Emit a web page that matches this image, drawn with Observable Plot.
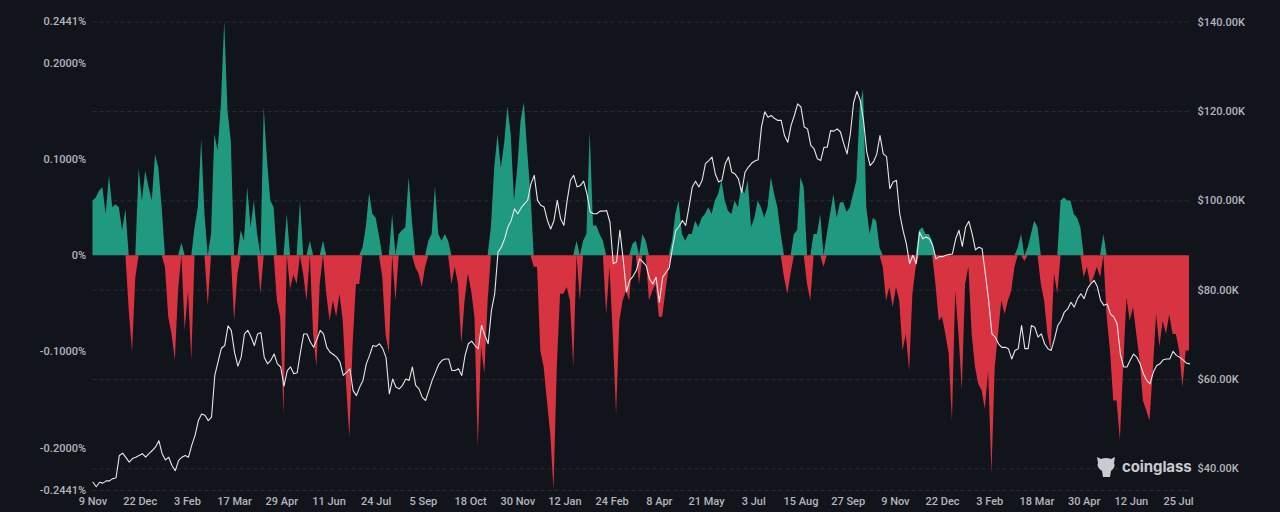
<!DOCTYPE html>
<html>
<head>
<meta charset="utf-8">
<script src="https://cdn.jsdelivr.net/npm/d3@7"></script>
<script src="https://cdn.jsdelivr.net/npm/@observablehq/plot@0.6"></script>
<style>
  html, body { margin: 0; padding: 0; background: #12141c; }
  #wrap { position: relative; width: 1280px; height: 512px; overflow: hidden; }
  #mark { position: absolute; left: 1095px; top: 454px; display: flex; align-items: center; gap: 5px;
          font-family: Inter, Roboto, sans-serif; font-weight: 700; font-size: 15px; color: #c9cbd0; letter-spacing: -0.1px; }
</style>
</head>
<body>
<div id="wrap"></div>
<script>
// ---- data (sampled every 3 days from 9 Nov 2023) ----
const startDate = "2023-11-09";
const stepDays = 3;
// funding rate, %
const fundingRate = [
0.057,0.060,0.067,0.071,0.043,0.083,0.050,0.053,0.050,0.026,
0.048,-0.057,-0.100,-0.023,0.091,0.057,0.088,0.071,0.057,0.105,
0.091,0.050,-0.012,-0.064,-0.082,-0.109,-0.036,0.013,-0.078,-0.037,
-0.109,0.029,0.050,0.121,0.043,-0.052,0.022,0.126,0.109,0.157,
0.2441,0.150,0.119,-0.068,-0.020,0.026,0.015,0.071,0.029,0.057,
0.022,-0.040,0.154,0.098,0.057,0.050,-0.047,-0.064,-0.165,0.043,
-0.035,-0.020,-0.030,0.057,-0.020,-0.047,0.015,-0.082,-0.116,-0.030,
0.015,-0.040,-0.068,-0.047,-0.064,-0.040,-0.068,-0.134,-0.189,-0.092,
-0.030,-0.030,0.008,0.029,0.065,0.043,0.039,0.020,-0.023,-0.082,
-0.102,0.043,-0.047,0.022,0.026,0.029,0.081,0.036,-0.012,-0.019,
-0.033,-0.012,0.015,0.022,0.072,0.022,0.015,0.022,0.015,-0.030,
-0.012,-0.030,-0.092,-0.047,-0.019,-0.037,-0.064,-0.199,-0.095,-0.123,
-0.047,0.030,0.091,0.126,0.091,0.116,0.155,0.126,0.057,0.091,
0.140,0.159,0.109,0.064,-0.012,-0.012,-0.099,-0.116,-0.151,-0.185,
-0.2441,-0.116,-0.040,-0.040,-0.033,-0.047,-0.116,0.015,-0.047,0.015,
0.022,0.129,0.031,0.031,0.022,0.015,-0.061,-0.012,-0.082,-0.165,
-0.068,-0.047,-0.037,-0.047,0.012,0.015,-0.030,0.022,0.015,-0.047,
-0.037,-0.030,-0.064,-0.064,-0.037,-0.012,0.015,0.043,0.057,0.022,
0.015,0.022,0.022,0.036,0.029,0.039,0.043,0.050,0.043,0.057,
0.064,0.078,0.057,0.046,0.043,0.057,0.050,0.071,0.064,0.078,
0.029,0.039,0.057,0.050,0.039,0.050,0.081,0.064,0.050,0.022,
-0.023,-0.040,-0.019,0.022,0.026,0.081,0.071,-0.030,-0.047,0.022,
0.022,0.043,-0.012,0.022,0.043,0.064,0.039,0.055,0.055,0.045,
0.050,0.064,0.078,0.154,0.173,0.050,0.022,0.039,0.036,0.008,
-0.012,-0.047,-0.033,-0.054,-0.033,-0.047,-0.099,-0.082,-0.120,-0.040,
-0.012,0.026,0.029,0.022,0.022,0.015,-0.030,-0.068,-0.064,-0.082,
-0.102,-0.172,-0.037,-0.082,-0.140,-0.030,-0.012,-0.082,-0.116,-0.134,
-0.140,-0.160,-0.120,-0.227,-0.116,-0.082,-0.047,-0.061,-0.047,-0.037,
-0.012,0.008,0.022,-0.006,0.008,0.022,0.036,0.029,-0.030,-0.047,
-0.082,-0.099,-0.019,-0.040,0.057,0.060,0.057,0.057,0.043,0.039,
0.029,-0.023,-0.012,-0.030,-0.023,-0.012,-0.023,0.022,-0.064,-0.099,
-0.151,-0.151,-0.192,-0.116,-0.044,-0.068,-0.054,-0.082,-0.109,-0.151,
-0.161,-0.172,-0.120,-0.061,-0.095,-0.068,-0.082,-0.061,-0.082,-0.082,
-0.099,-0.137,-0.099,-0.099
];
// price, thousands of USD
const price = [
37.0,36.0,37.0,36.8,37.3,37.3,37.8,38.0,43.0,43.5,
42.5,41.5,42.3,42.6,43.0,43.4,42.6,43.4,44.1,44.9,
46.3,43.4,42.0,42.6,40.7,39.6,41.9,42.6,43.0,42.6,
45.3,47.5,50.8,52.3,52.0,50.8,51.6,61.0,64.0,67.0,
67.6,72.0,71.0,66.0,63.0,65.0,70.2,71.0,69.5,67.6,
70.2,70.5,65.0,63.5,64.3,65.7,63.5,62.8,58.5,62.0,
62.8,61.3,61.5,66.1,70.2,70.2,68.4,67.2,69.0,71.0,
70.2,67.2,66.1,65.6,65.0,63.9,60.9,61.6,62.4,57.5,
56.4,58.3,59.8,63.5,65.4,67.6,67.4,68.0,66.9,64.9,
56.8,60.1,58.3,57.9,58.7,60.1,59.8,62.8,58.7,57.9,
56.0,55.3,57.5,59.8,61.6,63.4,64.3,64.6,64.6,62.0,
62.0,62.4,60.9,65.4,68.0,68.6,67.6,66.9,72.1,69.9,
68.0,75.4,79.2,88.5,89.6,91.5,94.1,95.6,98.2,97.1,
98.4,99.3,100.1,103.8,105.7,100.1,99.0,98.6,95.6,93.7,
95.6,100.1,96.0,94.5,100.1,104.6,105.7,103.1,103.4,104.4,
101.6,97.5,97.1,97.1,97.7,97.7,97.8,95.2,85.9,86.3,
93.4,87.0,79.6,82.2,83.1,84.4,87.0,86.3,85.5,82.5,
81.4,82.9,77.3,82.9,84.0,85.0,89.6,93.4,94.3,95.6,
94.5,98.6,103.1,104.4,103.1,104.6,108.3,109.0,109.8,106.0,
104.2,104.6,108.3,109.8,106.4,106.0,104.9,101.9,106.4,107.5,
108.4,108.9,109.2,116.5,119.9,118.7,119.1,118.4,118.0,118.0,
114.6,113.1,116.9,119.1,121.7,121.0,116.5,116.1,112.4,111.6,
109.4,109.0,112.0,112.0,115.7,115.6,116.1,115.4,112.8,110.5,
115.0,122.0,124.5,122.5,118.0,110.9,107.9,108.7,110.4,114.6,
110.5,109.9,102.7,104.2,104.6,97.1,93.4,90.4,85.9,87.8,
85.9,93.0,91.5,91.9,91.5,90.0,87.0,87.5,87.5,87.8,
88.0,88.1,91.5,93.4,89.8,94.1,95.4,92.6,89.0,89.6,
89.3,83.7,77.7,70.2,69.5,68.0,67.2,67.2,66.9,64.6,
66.5,66.9,72.1,66.9,66.9,72.1,71.7,69.5,70.2,68.0,
66.9,66.5,69.1,72.1,73.2,75.1,75.8,77.3,76.2,78.1,
79.2,78.1,80.3,81.4,82.2,80.8,77.7,76.6,76.9,74.7,
74.0,72.5,65.7,62.8,62.8,64.3,65.7,65.0,63.5,61.3,
59.8,59.0,61.6,63.1,63.5,64.4,64.6,64.6,66.3,65.4,
65.0,64.4,63.7,63.5
];
const fundingTicks = [-0.2441, -0.2, -0.1, 0, 0.1, 0.2, 0.2441];
const priceTicks = [40, 60, 80, 100, 120, 140];
const xTickDates = ["2023-11-09","2023-12-22","2024-02-03","2024-03-17","2024-04-29","2024-06-11",
  "2024-07-24","2024-09-05","2024-10-18","2024-11-30","2025-01-12","2025-02-24","2025-04-08",
  "2025-05-21","2025-07-03","2025-08-15","2025-09-27","2025-11-09","2025-12-22","2026-02-03",
  "2026-03-18","2026-04-30","2026-06-12","2026-07-25"];
const fundingExtent = [-0.2441, 0.2441];
const priceExtent = [35.15, 140.25];

// ---- build ----
const DAY = 864e5;
const t0 = new Date(startDate + "T00:00:00Z").getTime();
const rows = fundingRate.map((f, i) => ({date: new Date(t0 + i * stepDays * DAY), f, p: price[i]}));
const tEnd = new Date(t0 + (fundingRate.length - 1) * stepDays * DAY);
// map price onto funding axis (shared vertical range)
const toY = p => fundingExtent[0] + (p - priceExtent[0]) / (priceExtent[1] - priceExtent[0]) * (fundingExtent[1] - fundingExtent[0]);
const fromY = v => priceExtent[0] + (v - fundingExtent[0]) / (fundingExtent[1] - fundingExtent[0]) * (priceExtent[1] - priceExtent[0]);

const GREEN = "#1f9a80", RED = "#d83340", TXT = "#b3b6be", GRID = "#2a2d37";
const fmtPct = v => v === 0 ? "0%" : v.toFixed(4) + "%";

const chart = Plot.plot({
  width: 1280, height: 512,
  marginLeft: 92.5, marginRight: 91, marginTop: 20.5, marginBottom: 22,
  style: {background: "#12141c", color: TXT, fontFamily: "Roboto, 'Noto Sans', sans-serif", fontSize: "11px", fontWeight: 500},
  x: {type: "utc", domain: [new Date(t0), tEnd]},
  y: {domain: fundingExtent},
  marks: [
    Plot.ruleY(priceTicks.map(toY).concat([fundingExtent[0]]), {stroke: GRID, strokeDasharray: "4,3", strokeWidth: 1}),
    Plot.areaY(rows, {x: "date", y1: 0, y2: d => Math.max(0, d.f), fill: GREEN, curve: "linear"}),
    Plot.areaY(rows, {x: "date", y1: 0, y2: d => Math.min(0, d.f), fill: RED, curve: "linear"}),
    Plot.line(rows, {x: "date", y: d => toY(d.p), stroke: "#e6e7ea", strokeWidth: 1.1}),
    Plot.axisY(fundingTicks, {anchor: "left", tickSize: 0, tickPadding: 7, tickFormat: fmtPct, fill: TXT, fontSize: 11}),
    Plot.axisY(priceTicks.map(toY), {anchor: "right", tickSize: 0, tickPadding: 8, tickFormat: v => "$" + fromY(v).toFixed(2) + "K", fill: TXT, fontSize: 11}),
    Plot.axisX(xTickDates.map(d => new Date(d + "T00:00:00Z")), {tickSize: 0, tickPadding: 7, tickFormat: d3.utcFormat("%-d %b"), fill: TXT, fontSize: 11})
  ]
});
const wrap = document.getElementById("wrap");
wrap.appendChild(chart);
const mark = document.createElement("div");
mark.id = "mark";
mark.innerHTML = '<svg width="22" height="24" viewBox="0 0 22 24"><path d="M2 3 L6 5 Q11 3 16 5 L20 3 L19 9 Q21 13 16 17 L15 23 L8 23 L7 17 Q1 13 3 9 Z" fill="#c9cbd0"/></svg><span>coinglass</span>';
wrap.appendChild(mark);
</script>
</body>
</html>
